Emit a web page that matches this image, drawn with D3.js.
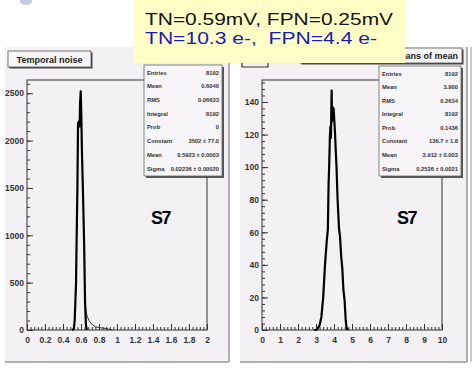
<!DOCTYPE html>
<html><head><meta charset="utf-8">
<script src="https://cdn.jsdelivr.net/npm/d3@7/dist/d3.min.js"></script>
<style>body{margin:0;background:#fff}svg{display:block}</style>
</head><body>
<svg id="c" width="474" height="368"></svg>
<script>
// ---------- data ----------
const headerLine1 = "TN=0.59mV, FPN=0.25mV";
const headerLine2 = "TN=10.3 e-,\u00a0\u00a0FPN=4.4 e-";
const panelLabel = "S7";

// Left panel: temporal noise (mV)
const leftTitle = "Temporal noise";
const leftXTicks = [0,0.2,0.4,0.6,0.8,1,1.2,1.4,1.6,1.8,2];
const leftYTicks = [0,500,1000,1500,2000,2500];
const leftThickX = [0.50,0.52,0.53,0.545,0.552,0.56,0.567,0.575,0.585,0.59,0.597,0.603,0.61,0.618,0.625,0.635,0.645,0.655,0.665];
const leftThickY = [0,10,100,500,1000,1500,2180,2200,2150,2400,2520,2300,1900,1600,1330,900,300,50,0];
const leftThinX = [0.645,0.655,0.67,0.69,0.72,0.76,0.80,0.85,0.90,0.95];
const leftThinY = [280,200,140,100,60,35,25,20,10,0];
const leftStatLabels = ["Entries","Mean","RMS","Integral","Prob","Constant","Mean","Sigma"];
const leftStatValues = ["8192","0.6040","0.06633","8192","0","3502 \u00b1 77.0","0.5923 \u00b1 0.0003","0.02236 \u00b1 0.00020"];

// Right panel: sigma of mean
const rightTitle = "Means of mean";
const rightXTicks = [0,1,2,3,4,5,6,7,8,9,10];
const rightYTicks = [0,20,40,60,80,100,120,140];
const rightThickX = [2.9,3.0,3.1,3.2,3.3,3.4,3.5,3.6,3.66,3.7,3.73,3.77,3.8,3.83,3.85,3.87,3.89,3.92,3.95,3.98,4.02,4.06,4.09,4.14,4.2,4.28,4.33,4.4,4.46,4.52,4.59,4.65,4.7,4.8];
const rightThickY = [0,0,1,3,8,20,40,55,62,90,100,118,125,118,135,147,128,137,130,136,128,120,112,100,80,62,58,45,38,25,18,6,1,0];
const rightStatLabels = ["Entries","Mean","RMS","Integral","Prob","Constant","Mean","Sigma"];
const rightStatValues = ["8192","3.900","0.2634","8192","0.1436","136.7 \u00b1 1.8","3.912 \u00b1 0.003","0.2526 \u00b1 0.0021"];

// ---------- drawing ----------
const svg = d3.select("#c");
const BG = "#f4f1f4";
const FONT = "'Liberation Sans', Arial, sans-serif";

function drawPanel(o) {
  const g = svg.append("g");
  g.append("rect").attr("x", o.px0).attr("y", 47).attr("width", o.px1 - o.px0).attr("height", 315)
    .attr("fill", BG);
  g.append("line").attr("x1", o.px0).attr("x2", o.px1).attr("y1", 362).attr("y2", 362).attr("stroke", "#9a979a").attr("stroke-width", 1.5);
  g.append("line").attr("x1", o.px1).attr("x2", o.px1).attr("y1", 47).attr("y2", 362).attr("stroke", "#9a979a").attr("stroke-width", 1.5);

  const x = d3.scaleLinear().domain(o.xDomain).range([o.fx0, o.fx1]);
  const y = d3.scaleLinear().domain(o.yDomain).range([330, 80]);

  g.append("rect").attr("x", o.fx0).attr("y", 80).attr("width", o.fx1 - o.fx0).attr("height", 250)
    .attr("fill", "none").attr("stroke", "#333").attr("stroke-width", 1);

  const minorX = d3.axisBottom(x).tickValues(d3.range(o.xDomain[0], o.xDomain[1] + 1e-9, o.xMinor)).tickSizeInner(-3).tickSizeOuter(0).tickFormat("");
  const minorY = d3.axisLeft(y).tickValues(d3.range(0, o.yDomain[1], o.yMinor)).tickSizeInner(-3).tickSizeOuter(0).tickFormat("");
  g.append("g").attr("transform", "translate(0,330)").call(minorX).call(s => s.select(".domain").remove());
  g.append("g").attr("transform", `translate(${o.fx0},0)`).call(minorY).call(s => s.select(".domain").remove());

  const ax = d3.axisBottom(x).tickValues(o.xTicks).tickSizeInner(-6).tickSizeOuter(0).tickPadding(7).tickFormat(d3.format("~g"));
  const ay = d3.axisLeft(y).tickValues(o.yTicks).tickSizeInner(-6).tickSizeOuter(0).tickPadding(3).tickFormat(d3.format("d"));
  g.append("g").attr("transform", "translate(0,330)").call(ax).call(s => s.select(".domain").remove());
  g.append("g").attr("transform", `translate(${o.fx0},0)`).call(ay).call(s => s.select(".domain").remove());
  g.selectAll(".tick line").attr("stroke", "#333");
  g.selectAll(".tick text").attr("font-family", FONT).attr("font-size", 8.5).attr("font-weight", "bold").attr("fill", "#333");

  const line = d3.line().x(d => x(d[0])).y(d => y(d[1]));
  if (o.thinX) {
    g.append("path").datum(d3.zip(o.thinX, o.thinY)).attr("d", line)
      .attr("fill", "none").attr("stroke", "#222").attr("stroke-width", 0.9);
  }
  g.append("path").datum(d3.zip(o.thickX, o.thickY)).attr("d", line)
    .attr("fill", "none").attr("stroke", "#000").attr("stroke-width", 2.2).attr("stroke-linejoin", "round");

  g.append("text").attr("x", o.labelX).attr("y", 224).text(panelLabel)
    .attr("font-family", FONT).attr("font-weight", "bold").attr("font-size", 18).attr("letter-spacing", -1.5).attr("fill", "#000");

  const sb = o.stats;
  g.append("rect").attr("x", sb.x0 + 2).attr("y", sb.y0 + 2).attr("width", sb.x1 - sb.x0).attr("height", sb.y1 - sb.y0).attr("fill", "#555");
  g.append("rect").attr("x", sb.x0).attr("y", sb.y0).attr("width", sb.x1 - sb.x0).attr("height", sb.y1 - sb.y0)
    .attr("fill", "#f7f5f7").attr("stroke", "#666").attr("stroke-width", 0.8);
  const rowY = d3.scaleLinear().domain([0, 7]).range([sb.y0 + 9.5, sb.y1 - 5.5]);
  o.statLabels.forEach((lab, i) => {
    g.append("text").attr("x", sb.x0 + 3).attr("y", rowY(i)).text(lab)
      .attr("font-family", FONT).attr("font-size", 5.8).attr("font-weight", "bold").attr("fill", "#333");
    g.append("text").attr("x", sb.x1 - 3).attr("y", rowY(i)).attr("text-anchor", "end").text(o.statValues[i])
      .attr("font-family", FONT).attr("font-size", 5.8).attr("font-weight", "bold").attr("fill", "#333");
  });

  const tb = o.title;
  g.append("rect").attr("x", tb.x0 + 1.5).attr("y", tb.y0 + 1.5).attr("width", tb.x1 - tb.x0).attr("height", tb.y1 - tb.y0).attr("fill", "#444");
  g.append("rect").attr("x", tb.x0).attr("y", tb.y0).attr("width", tb.x1 - tb.x0).attr("height", tb.y1 - tb.y0)
    .attr("fill", "#f7f5f7").attr("stroke", "#555").attr("stroke-width", 0.8);
  g.append("text").attr("x", tb.tx).attr("y", tb.y1 - 4).attr("text-anchor", tb.anchor).text(tb.text)
    .attr("font-family", FONT).attr("font-size", 9).attr("font-weight", "bold").attr("fill", "#222");
}

drawPanel({
  px0: 5, px1: 229, fx0: 27, fx1: 207,
  xDomain: [0, 2], yDomain: [0, 2640], xTicks: leftXTicks, yTicks: leftYTicks, xMinor: 0.04, yMinor: 100,
  thickX: leftThickX, thickY: leftThickY, thinX: leftThinX, thinY: leftThinY,
  labelX: 151,
  stats: {x0: 144, y0: 65, x1: 222, y1: 176},
  statLabels: leftStatLabels, statValues: leftStatValues,
  title: {x0: 8, y0: 51, x1: 91, y1: 67, tx: 49.5, anchor: "middle", text: leftTitle}
});
drawPanel({
  px0: 240, px1: 467, fx0: 262, fx1: 442,
  xDomain: [0, 10], yDomain: [0, 153.5], xTicks: rightXTicks, yTicks: rightYTicks, xMinor: 0.2, yMinor: 4,
  thickX: rightThickX, thickY: rightThickY,
  labelX: 397,
  stats: {x0: 379, y0: 66, x1: 461, y1: 176},
  statLabels: rightStatLabels, statValues: rightStatValues,
  title: {x0: 300, y0: 48, x1: 462, y1: 63, tx: 458, anchor: "end", text: rightTitle}
});
svg.append("path").attr("d", "M242,63 L242,67 L268,67 L268,63").attr("fill", "none").attr("stroke", "#333").attr("stroke-width", 1.2);
svg.append("line").attr("x1", 471).attr("x2", 471).attr("y1", 47).attr("y2", 362).attr("stroke", "#bbb").attr("stroke-width", 1.5);

// header box
svg.append("rect").attr("x", 134).attr("y", 0).attr("width", 271).attr("height", 63).attr("fill", "#ffffc6");
svg.append("text").attr("x", 145).attr("y", 25).text(headerLine1)
  .attr("font-family", FONT).attr("font-size", 17).attr("textLength", 248).attr("lengthAdjust", "spacingAndGlyphs").attr("fill", "#111");
svg.append("text").attr("x", 145).attr("y", 44).text(headerLine2)
  .attr("font-family", FONT).attr("font-size", 17).attr("textLength", 232).attr("lengthAdjust", "spacingAndGlyphs").attr("fill", "#1a1ab8");
svg.append("ellipse").attr("cx", 26).attr("cy", 1).attr("rx", 6).attr("ry", 4).attr("fill", "#9aa6c8").attr("opacity", 0.6);
</script>
</body></html>
